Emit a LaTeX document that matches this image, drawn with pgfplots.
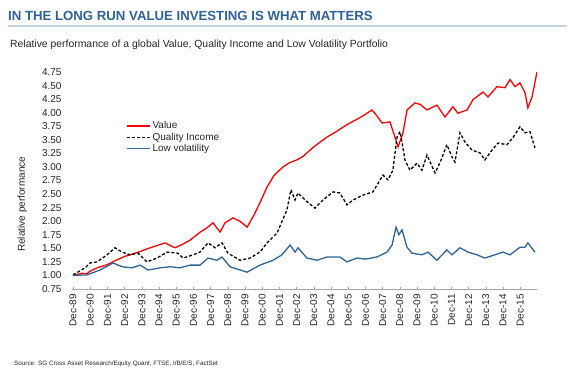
\documentclass[border=0pt]{standalone}
\usepackage{pgfplots}
\pgfplotsset{compat=1.18}
\usepackage{fontspec}
\setmainfont{Liberation Sans}
\definecolor{titleblue}{HTML}{2E6299}
\definecolor{rulebl}{HTML}{C3D3E5}
\definecolor{lowvol}{HTML}{2F6497}
\definecolor{txt}{HTML}{262626}
\begin{document}
\begin{tikzpicture}
\useasboundingbox (0pt,0pt) rectangle (577pt,371pt);
\fill[white] (0pt,0pt) rectangle (577pt,371pt);
\node[anchor=base west,inner sep=0pt,text=titleblue,font=\fontsize{13.2}{15}\selectfont\bfseries] at (8pt,350pt) {IN THE LONG RUN VALUE INVESTING IS WHAT MATTERS};
\draw[rulebl,line width=1.5pt] (8pt,345pt) -- (567pt,345pt);
\node[anchor=base west,inner sep=0pt,text=txt,font=\fontsize{10.4}{12}\selectfont] at (10pt,323pt) {Relative performance of a global Value, Quality Income and Low Volatility Portfolio};
\node[anchor=base west,inner sep=0pt,text=txt,font=\fontsize{6.3}{7}\selectfont] at (14pt,5pt) {Source: SG Cross Asset Research/Equity Quant, FTSE, I/B/E/S, FactSet};
\begin{axis}[
  at={(72pt,82pt)}, anchor=south west,
  scale only axis, width=465pt, height=217pt,
  xmin=-0.06, xmax=26.98, ymin=0.75, ymax=4.75,
  axis x line*=bottom, axis y line*=left,
  y axis line style={draw=none},
  x axis line style={draw=gray!70,line width=0.6pt},
  ytick={0.75,1,...,4.75},
  ytick style={draw=none},
  xtick={0,...,26},
  xticklabels={Dec-89,Dec-90,Dec-91,Dec-92,Dec-93,Dec-94,Dec-95,Dec-96,Dec-97,Dec-98,Dec-99,Dec-00,Dec-01,Dec-02,Dec-03,Dec-04,Dec-05,Dec-06,Dec-07,Dec-08,Dec-09,Dec-10,Dec-11,Dec-12,Dec-13,Dec-14,Dec-15},
  xtick align=center, major tick length=3pt,
  xtick style={draw=gray!70,line width=0.5pt},
  xticklabel style={rotate=90,anchor=east,font=\fontsize{10}{12}\selectfont,text=txt},
  yticklabel style={font=\fontsize{10}{12}\selectfont,text=txt,xshift=-7pt,/pgf/number format/.cd,fixed,fixed zerofill,precision=2},
  /pgf/number format/assume math mode=true,
  ylabel={Relative performance},
  ylabel style={at={(axis description cs:-0.107,0.39)},anchor=center,rotate=0,font=\fontsize{10}{12}\selectfont,text=txt},
  legend style={at={(axis description cs:0.114,0.786)},anchor=north west,draw=none,fill=none,font=\fontsize{10}{12}\selectfont,text=txt,row sep=-1.5pt,inner sep=1pt},
  legend cell align=left,
  legend image code/.code={\draw[#1,line width=1.3pt] (0pt,0pt) -- (23pt,0pt);},
]
\addplot[red,line width=1.3pt] coordinates {
(0,1.00) (0.5,1.04) (0.8,1.03) (1.0,1.08) (1.4,1.14) (2.0,1.20) (2.5,1.28) (3.0,1.35) (3.8,1.43) (4.4,1.50) (5.35,1.60) (5.93,1.51) (6.4,1.58) (6.8,1.65) (7.4,1.80) (7.8,1.88) (8.14,1.97) (8.55,1.80) (8.84,1.97) (9.30,2.06) (9.7,2.0) (10.12,1.89) (10.5,2.1) (10.87,2.34) (11.28,2.63) (11.7,2.85) (12.21,3.0) (12.6,3.08) (13.02,3.13) (13.4,3.2) (13.78,3.31) (14.2,3.42) (14.77,3.55) (15.3,3.65) (15.93,3.78) (16.69,3.91) (17.0,3.97) (17.38,4.05) (17.6,3.97) (17.97,3.81) (18.43,3.83) (18.72,3.55) (18.90,3.37) (19.19,3.63) (19.42,4.05) (19.88,4.18) (20.2,4.15) (20.58,4.05) (21.16,4.14) (21.63,3.92) (21.80,3.99) (22.09,4.11) (22.38,3.99) (22.91,4.05) (23.26,4.24) (23.84,4.38) (24.13,4.29) (24.65,4.48) (25.12,4.46) (25.41,4.61) (25.70,4.48) (25.99,4.55) (26.28,4.37) (26.45,4.09) (26.69,4.29) (26.98,4.75)
};
\addlegendentry{Value}
\addplot[black,line width=1.3pt,densely dashed] coordinates {
(0,1.01) (0.7,1.14) (0.99,1.23) (1.40,1.25) (1.98,1.38) (2.44,1.51) (2.85,1.43) (3.31,1.38) (3.78,1.41) (4.30,1.25) (4.88,1.32) (5.47,1.43) (6.10,1.41) (6.40,1.32) (6.98,1.38) (7.38,1.43) (7.85,1.60) (8.26,1.51) (8.66,1.60) (9.01,1.41) (9.71,1.28) (10.29,1.32) (10.87,1.43) (11.28,1.60) (11.86,1.78) (12.44,2.21) (12.67,2.58) (12.91,2.39) (13.08,2.52) (13.60,2.36) (14.07,2.24) (14.53,2.39) (15.12,2.54) (15.52,2.52) (15.93,2.30) (16.28,2.39) (16.86,2.48) (17.44,2.54) (18.02,2.85) (18.31,2.76) (18.60,2.94) (18.84,3.55) (19.01,3.65) (19.13,3.46) (19.30,3.13) (19.59,2.94) (20.0,3.07) (20.29,2.94) (20.58,3.22) (21.05,2.89) (21.34,3.08) (21.74,3.41) (22.03,3.19) (22.21,3.09) (22.50,3.63) (22.79,3.46) (23.20,3.31) (23.66,3.26) (23.95,3.13) (24.36,3.31) (24.71,3.44) (25.23,3.41) (25.58,3.54) (25.99,3.74) (26.28,3.63) (26.57,3.65) (26.86,3.35)
};
\addlegendentry{Quality Income}
\addplot[lowvol,line width=1.3pt] coordinates {
(0,1.00) (0.81,1.01) (1.57,1.10) (2.33,1.23) (2.85,1.16) (3.43,1.14) (3.90,1.19) (4.36,1.10) (5.06,1.14) (5.64,1.16) (6.22,1.14) (6.80,1.19) (7.38,1.19) (7.85,1.32) (8.37,1.28) (8.66,1.34) (9.13,1.16) (10.12,1.06) (10.87,1.19) (11.63,1.28) (12.15,1.38) (12.62,1.56) (12.91,1.43) (13.08,1.51) (13.60,1.32) (14.19,1.28) (14.77,1.34) (15.52,1.34) (15.93,1.25) (16.51,1.32) (17.0,1.30) (17.67,1.34) (18.26,1.43) (18.55,1.56) (18.78,1.89) (18.95,1.75) (19.13,1.84) (19.42,1.52) (19.71,1.41) (20.29,1.38) (20.64,1.43) (21.16,1.28) (21.74,1.47) (22.03,1.38) (22.50,1.51) (22.97,1.43) (23.49,1.38) (23.95,1.32) (24.53,1.38) (25.0,1.43) (25.41,1.38) (25.99,1.52) (26.28,1.52) (26.45,1.60) (26.86,1.43)
};
\addlegendentry{Low volatility}
\end{axis}
\end{tikzpicture}
\end{document}
